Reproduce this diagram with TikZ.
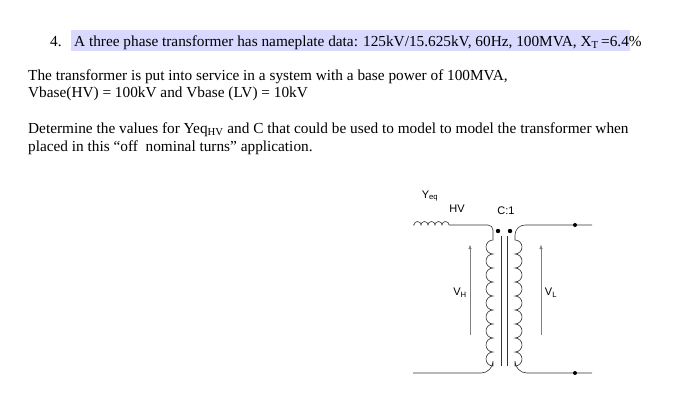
\documentclass[tikz,border=0pt]{standalone}
\usepackage{fontspec}
\setmainfont{Liberation Serif}
\setsansfont{Liberation Sans}
\usetikzlibrary{arrows.meta}
\begin{document}
\begin{tikzpicture}[x=1pt,y=-1pt,
  txt/.style={anchor=base west,inner sep=0pt,font=\fontsize{15.3}{18}\selectfont},
  lbl/.style={inner sep=0pt,font=\sffamily\fontsize{11}{13}\selectfont},
  wire/.style={line width=0.6pt,black!80},
  varrow/.style={line width=0.4pt,gray,-{Triangle[length=4pt,width=3pt]}}]
\useasboundingbox (0,0) rectangle (695,415);
\fill[blue!15] (71,30) rectangle (630,51);
\node[txt] (t0) at (50,46) {4.};
\node[txt] (t1) at (74,46) {A three phase transformer has nameplate data: 125kV/15.625kV, 60Hz, 100MVA, X\textsubscript{T}\,=6.4\%};
\node[txt] (t2) at (28,80) {The transformer is put into service in a system with a base power of 100MVA,};
\node[txt] (t3) at (28,97) {Vbase(HV) = 100kV and Vbase (LV) = 10kV};
\node[txt] (t4) at (28,133) {Determine the values for Yeq\textsubscript{HV} and C that could be used to model to model the transformer when};
\node[txt] (t5) at (28,151) {placed in this ``off\ \ nominal turns'' application.};
% circuit
\node[lbl] (yeq) at (430,196) {Y\textsubscript{eq}};
\node[lbl] (hv) at (457,209) {HV};
\node[lbl] (c1) at (506,211) {C:1};
\coordinate (a) at (413,225);
\coordinate (b) at (413,373);
\coordinate (c) at (592,225);
\coordinate (d) at (592,373);
\draw[wire] (a) -- (414,225) \foreach \i in {0,...,4}{ arc[start angle=180,end angle=360,radius=3.5] } -- (488,225) arc[start angle=-90,end angle=0,radius=5] -- (493,240)
  \foreach \i in {1,...,9}{ arc[start angle=-90,end angle=-270,radius=7] } -- (493,361) arc[start angle=0,end angle=90,radius=12] -- (b);
\draw[wire] (c) -- (525,225) arc[start angle=-90,end angle=-180,radius=10] -- (515,240)
  \foreach \i in {1,...,9}{ arc[start angle=-90,end angle=90,radius=7] } -- (515,361) arc[start angle=180,end angle=90,radius=12] -- (d);
\draw[wire] (501,236) -- (501,366) (507,236) -- (507,366);
\fill (498,231) circle (2.2) (510,231) circle (2.2) (575,225) circle (2) (575,373) circle (2);
\coordinate (vh0) at (470,335); \coordinate (vh1) at (470,245);
\coordinate (vl0) at (541,335); \coordinate (vl1) at (541,245);
\draw[varrow] (vh0) -- (vh1);
\draw[varrow] (vl0) -- (vl1);
\node[lbl] (vh) at (460,293) {V\textsubscript{H}};
\node[lbl] (vl) at (551,293) {V\textsubscript{L}};
\end{tikzpicture}
\end{document}
